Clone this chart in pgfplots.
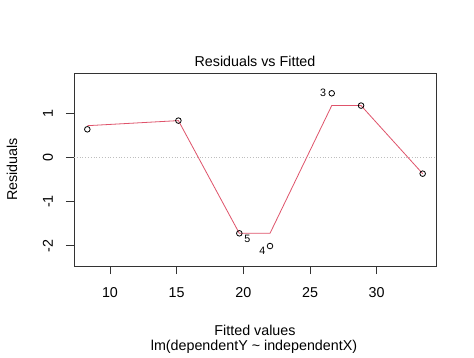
\documentclass[border=0pt]{standalone}
\usepackage{pgfplots}
\pgfplotsset{compat=1.18}
\usepackage{fontspec}
\setmainfont{Liberation Sans}
\definecolor{rred}{RGB}{223,83,107}
\definecolor{rgray}{RGB}{190,190,190}
\begin{document}
\fontsize{14.3bp}{17bp}\selectfont
\begin{tikzpicture}
\path[use as bounding box, fill=white] (0,0) rectangle (474bp,358bp);
\begin{axis}[
  at={(74bp,92bp)}, anchor=south west,
  scale only axis, width=362bp, height=193bp,
  xmin=7.30, xmax=34.45, ymin=-2.459, ymax=1.907,
  axis line style={black!80, line width=0.8bp},
  xtick={10,15,20,25,30}, xticklabels={10,15,20,25,30},
  ytick={-2,-1,0,1}, yticklabels={-2,-1,0,1},
  xtick pos=bottom, ytick pos=left,
  tick align=outside, major tick length=8bp,
  tick style={black!80, line width=0.8bp},
  xticklabel style={anchor=center, yshift=-19bp},
  yticklabel style={rotate=90, anchor=center, yshift=18bp},
  clip=false,
]
\addplot[rgray, dotted, line width=0.8bp, forget plot] coordinates {(7.30,0) (34.45,0)};
\addplot[rred, line width=0.8bp] coordinates {
(8.30,0.715) (15.13,0.83) (19.70,-1.72) (22.0,-1.72) (26.63,1.17) (28.83,1.17) (33.45,-0.37)};
\addplot[only marks, mark=o, mark size=2.8bp, black, mark options={line width=0.8bp}] coordinates {
(8.30,0.633) (15.13,0.83) (19.70,-1.72) (22.0,-2.007) (26.63,1.448) (28.83,1.17) (33.45,-0.37)};
\node[font=\fontsize{10.7bp}{12bp}\selectfont] at (axis cs:20.30,-1.85) {5};
\node[font=\fontsize{10.7bp}{12bp}\selectfont] at (axis cs:21.42,-2.11) {4};
\node[font=\fontsize{10.7bp}{12bp}\selectfont] at (axis cs:25.98,1.448) {3};
\end{axis}
\node at (255bp,296.3bp) {Residuals vs Fitted};
\node at (255bp,27.3bp) {Fitted values};
\node at (254bp,11bp) {lm(dependentY \textasciitilde{} independentX)};
\node[rotate=90] at (12bp,188.5bp) {Residuals};
\end{tikzpicture}
\end{document}
